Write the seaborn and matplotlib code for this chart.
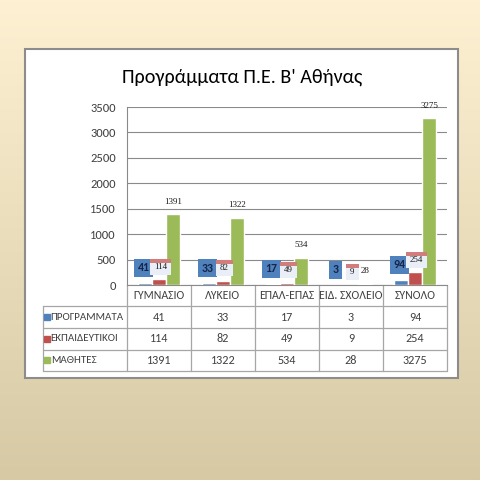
import numpy as np
import pandas as pd
import matplotlib
matplotlib.use("Agg")
import matplotlib.pyplot as plt
import matplotlib.transforms as mtransforms
from matplotlib.patches import Rectangle
import seaborn as sns

# data
categories = ["ΓΥΜΝΑΣΙΟ", "ΛΥΚΕΙΟ", "ΕΠΑΛ-ΕΠΑΣ", "ΕΙΔ. ΣΧΟΛΕΙΟ", "ΣΥΝΟΛΟ"]
series_names = ["ΠΡΟΓΡΑΜΜΑΤΑ", "ΕΚΠΑΙΔΕΥΤΙΚΟΙ", "ΜΑΘΗΤΕΣ"]
programmata = [41, 33, 17, 3, 94]
ekpaideytikoi = [114, 82, 49, 9, 254]
mathites = [1391, 1322, 534, 28, 3275]
yticks = [0, 500, 1000, 1500, 2000, 2500, 3000, 3500]
colors = ["#4f81bd", "#c0504d", "#9bbb59"]

df = pd.DataFrame({"category": categories,
                   series_names[0]: programmata,
                   series_names[1]: ekpaideytikoi,
                   series_names[2]: mathites})
long = df.melt(id_vars="category", var_name="series", value_name="value")

sns.set_style("white")
plt.rcParams['font.family'] = ['Carlito', 'Roboto Condensed', 'Open Sans Condensed', 'DejaVu Sans']
txt = "#404040"

fig = plt.figure(figsize=(4.8, 4.8), dpi=100)

# slide background gradient + white chart panel
bg = fig.add_axes([0, 0, 1, 1], zorder=-10)
top = np.array([254, 241, 211]) / 255
bot = np.array([214, 201, 164]) / 255
t = np.linspace(0, 1, 256)[:, None]
grad = (top * (1 - t) + bot * t)[:, None, :]
bg.imshow(grad, aspect="auto", extent=[0, 1, 0, 1], origin="upper")
bg.add_patch(Rectangle((25 / 480, 1 - 378 / 480), 433 / 480, 329 / 480,
                       facecolor="white", edgecolor="#8c8c8c", lw=1.5))
bg.set_xlim(0, 1)
bg.set_ylim(0, 1)
bg.axis("off")

ax = fig.add_axes([127 / 480, 1 - 285 / 480, 320 / 480, 178 / 480])
sns.barplot(data=long, x="category", y="value", hue="series",
            palette=colors, width=0.67, gap=0, ax=ax, legend=False,
            saturation=1, zorder=3)

ax.set_ylim(0, 3500)
ax.set_xlim(-0.5, 4.5)
ax.set_yticks(yticks)
ax.set_yticklabels([str(v) for v in yticks], fontsize=9, color=txt)
ax.set_xticks([])
ax.set_xlabel("")
ax.set_ylabel("")
ax.yaxis.grid(True, color="#8a8a8a", lw=0.8, zorder=0)
ax.tick_params(axis="y", length=0, pad=8)
for s in ["top", "right"]:
    ax.spines[s].set_visible(False)
ax.spines["left"].set_color("#8a8a8a")
ax.spines["bottom"].set_color("#8a8a8a")

# bar labels
red_labels = []
for i, cont in enumerate(ax.containers):
    for bar in cont:
        xc = bar.get_x() + bar.get_width() / 2
        h = bar.get_height()
        lab = f"{int(h)}"
        if i == 0:
            ax.annotate(lab, (xc - 0.02, h), xytext=(0, 11), textcoords="offset points",
                        ha="center", va="center", fontsize=8.5, fontweight="bold",
                        color="#16254a", zorder=5,
                        bbox=dict(boxstyle="square,pad=0.3", fc="#4f81bd", ec="none"))
        elif i == 1:
            a = ax.annotate(lab, (xc + 0.02, h), xytext=(0, 9), textcoords="offset points",
                            ha="center", va="center", fontsize=6.5, family="Liberation Serif",
                            color="#1a1a1a", zorder=6,
                            bbox=dict(boxstyle="square,pad=0.45", fc="#e9eef7", ec="none"))
            red_labels.append(a)
        else:
            ax.annotate(lab, (xc, h), xytext=(0, 9), textcoords="offset points",
                        ha="center", va="center", fontsize=6.5, family="Liberation Serif",
                        color="#1a1a1a", zorder=5)

# data table under the plot
tr = mtransforms.blended_transform_factory(ax.transData, ax.transAxes)
row_y = [0, -0.118, -0.2416, -0.365, -0.483]
x_left = -1.8125
lc = "#a6a6a6"
for y in row_y[1:]:
    ax.plot([x_left, 4.5], [y, y], transform=tr, color=lc, lw=0.9, clip_on=False)
for xv in [-0.5, 0.5, 1.5, 2.5, 3.5, 4.5]:
    ax.plot([xv, xv], [0, row_y[-1]], transform=tr, color=lc, lw=0.9, clip_on=False)
ax.plot([x_left, x_left], [row_y[1], row_y[-1]], transform=tr, color=lc, lw=0.9, clip_on=False)

for j, cat in enumerate(categories):
    ax.text(j, (row_y[0] + row_y[1]) / 2, cat, transform=tr, ha="center", va="center",
            fontsize=8.5, color=txt)

rows = [programmata, ekpaideytikoi, mathites]
for r, (name, vals) in enumerate(zip(series_names, rows)):
    yc = (row_y[r + 1] + row_y[r + 2]) / 2
    ax.plot([x_left + 0.07], [yc], marker="s", ms=4, color=colors[r], transform=tr,
            clip_on=False, linestyle="none")
    ax.text(x_left + 0.12, yc, name, transform=tr, ha="left", va="center",
            fontsize=7.9, color=txt)
    for j, v in enumerate(vals):
        ax.text(j, yc, str(v), transform=tr, ha="center", va="center",
                fontsize=8.7, color=txt)

fig.text(242 / 480, 1 - 77 / 480, "Προγράμματα Π.Ε. Β' Αθήνας", ha="center", va="center",
         fontsize=14.5, color="#000000")

# red strip across the top of the pale teacher-label boxes
fig.canvas.draw()
inv = fig.transFigure.inverted()
for a in red_labels:
    bb = a.get_bbox_patch().get_window_extent()
    (x0, y0), (x1, y1) = inv.transform([(bb.x0, bb.y1 - 4), (bb.x1, bb.y1)])
    fig.add_artist(Rectangle((x0, y0), x1 - x0, y1 - y0, transform=fig.transFigure,
                             facecolor="#d07d7b", edgecolor="none", zorder=10))

fig.savefig("out.png", dpi=100)
